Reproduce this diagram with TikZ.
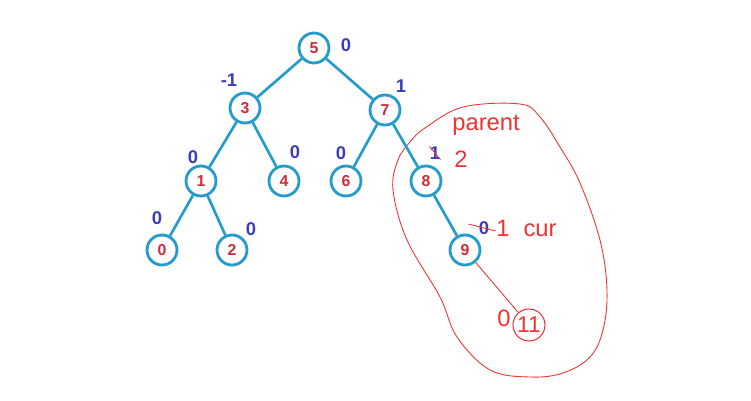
\documentclass[tikz,border=0pt]{standalone}
\usepackage{fontspec}
\setmainfont{Liberation Sans}
\usepackage{xcolor}
\usepackage{tikz}
\usetikzlibrary{positioning,calc}
\definecolor{ring}{RGB}{35,155,205}
\definecolor{keyred}{RGB}{205,45,55}
\definecolor{bal}{RGB}{60,60,190}
\definecolor{pen}{RGB}{240,50,50}

\begin{document}
\begin{tikzpicture}[
    x=0.02cm,y=-0.02cm,
    avl/.style={circle,draw=ring,line width=1.6pt,fill=white,minimum size=0.6cm,inner sep=0pt,font=\bfseries\fontsize{9}{10}\selectfont,text=keyred},
    edge/.style={draw=ring,line width=1.5pt},
    bf/.style={font=\bfseries\fontsize{10.5}{12}\selectfont,text=bal,inner sep=0pt},
    note/.style={font=\fontsize{13.5}{16}\selectfont,text=pen,inner sep=0pt}
  ]
    \useasboundingbox (0,0) rectangle (751,400);
    % hand drawn loop round the new part
    \draw[pen,line width=0.5pt] plot[smooth cycle,tension=0.6] coordinates {
      (425,128) (463,107) (520,104) (540,117) (560,147) (580,183) (600,240)
      (607,290) (603,330) (590,357) (563,373) (530,377) (490,370) (457,337)
      (440,297) (407,240) (393,190) (398,160) (410,142)};
    % tree
    \node[avl] (n5) at (314,48) {5};
    \node[avl] (n3) at (245,108) {3};
    \node[avl] (n7) at (385,110) {7};
    \node[avl] (n1) at (201,181) {1};
    \node[avl] (n4) at (284,181) {4};
    \node[avl] (n6) at (346,181) {6};
    \node[avl] (n8) at (426,181) {8};
    \node[avl] (n0) at (162,250) {0};
    \node[avl] (n2) at (232,250) {2};
    \node[avl] (n9) at (465,250) {9};
    \node[circle,draw=pen,line width=0.6pt,minimum size=0.64cm,inner sep=0pt,font=\fontsize{13}{15}\selectfont,text=pen] (n11) at (529,325) {11};
    \draw[edge] (n5) -- (n3);
    \draw[edge] (n5) -- (n7);
    \draw[edge] (n3) -- (n1);
    \draw[edge] (n3) -- (n4);
    \draw[edge] (n7) -- (n6);
    \draw[edge] (n7) -- (n8);
    \draw[edge] (n1) -- (n0);
    \draw[edge] (n1) -- (n2);
    \draw[edge] (n8) -- (n9);
    \draw[pen,line width=0.5pt] (n9) -- (n11);
    % balance factors
    \node[bf] (b5) at (346,45) {0};
    \node[bf] (b3) at (229,80) {-1};
    \node[bf] (b7) at (401,86) {1};
    \node[bf] (b1) at (193,157) {0};
    \node[bf] (b4) at (295,152) {0};
    \node[bf] (b6) at (341,153) {0};
    \node[bf] (b8) at (435,153) {1};
    \node[bf] (b0) at (157,218) {0};
    \node[bf] (b2) at (251,229) {0};
    \node[bf] (b9) at (484,228) {0};
    \draw[pen,line width=0.5pt] (b8.north west) -- (b8.south east);
    \draw[pen,line width=0.5pt] ($(b9.west)+(-10,-4)$) -- ($(b9.east)+(6,3)$);
    % notes
    \node[note] (parent) at (486,125) {parent};
    \node[note] (new8) at (461,159) {2};
    \node[note] (new9) at (503,228) {1};
    \node[note] (cur) at (540,230) {cur};
    \node[note] (b11) at (504,318) {0};
\end{tikzpicture}
\end{document}
